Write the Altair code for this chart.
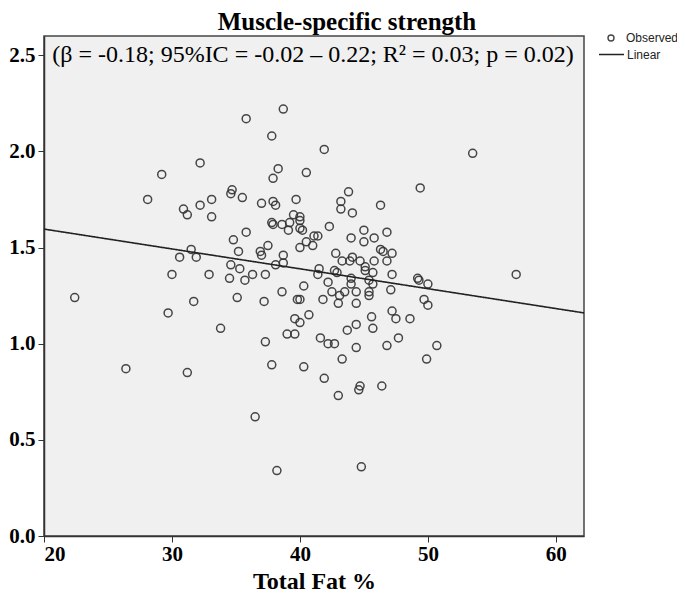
import altair as alt
import pandas as pd

# total fat % (x) and muscle-specific strength (y)
fat = [
    35.8, 38.7, 37.8, 32.2, 29.2, 38.3, 37.9, 28.1, 34.7, 34.6,
    35.5, 33.1, 32.2, 30.9, 31.2, 33.1, 37.0, 37.9, 38.1, 37.8,
    37.9, 38.6, 39.2, 39.1, 35.8, 34.8, 37.5, 31.5, 30.6, 31.9,
    35.2, 36.9, 37.0, 38.7, 34.6, 35.3, 38.7, 38.1, 30.0, 32.9,
    34.5, 35.7, 36.3, 37.3,
    41.9, 53.5, 40.5, 49.4, 43.8, 39.7, 43.2, 46.3, 43.2, 44.1,
    39.5, 40.0, 40.0, 40.0, 40.2, 42.3, 41.1, 41.4, 45.0, 46.8,
    44.0, 45.8, 40.5, 45.0, 40.0, 41.0, 46.3, 46.5, 47.2, 42.8,
    44.1, 43.3, 43.9, 44.7, 45.8, 46.8, 41.5, 45.1, 42.7, 42.9,
    41.4, 45.1, 45.7, 47.2, 49.2, 49.3, 50.0, 56.9, 42.2, 44.0,
    44.0, 45.4, 40.3,
    22.4, 29.7, 31.7, 35.1, 37.2, 38.6, 33.8, 37.3, 39.0, 26.4,
    31.2, 37.8, 36.5, 38.2,
    42.5, 43.1, 43.5, 44.4, 45.7, 45.4, 45.4, 47.1, 39.8, 40.0,
    41.8, 43.0, 44.4, 49.7, 50.0, 39.6, 40.0, 40.7, 45.6, 47.2,
    47.5, 48.6, 43.7, 44.4, 45.7, 39.6, 41.6, 42.2, 42.7, 44.4,
    46.8, 47.7, 50.7, 49.9, 43.3, 40.3, 41.9, 44.7, 44.6, 46.4,
    43.0, 44.8,
]
strength = [
    2.17, 2.22, 2.08, 1.94, 1.88, 1.91, 1.86, 1.75, 1.80, 1.78,
    1.76, 1.75, 1.72, 1.70, 1.67, 1.66, 1.73, 1.74, 1.72, 1.63,
    1.62, 1.62, 1.63, 1.59, 1.58, 1.54, 1.51, 1.49, 1.45, 1.45,
    1.48, 1.48, 1.46, 1.46, 1.41, 1.39, 1.42, 1.41, 1.36, 1.36,
    1.34, 1.33, 1.36, 1.36,
    2.01, 1.99, 1.89, 1.81, 1.79, 1.75, 1.74, 1.72, 1.70, 1.68,
    1.67, 1.66, 1.64, 1.60, 1.59, 1.61, 1.56, 1.56, 1.59, 1.58,
    1.55, 1.55, 1.53, 1.53, 1.50, 1.51, 1.49, 1.48, 1.47, 1.47,
    1.45, 1.43, 1.43, 1.43, 1.43, 1.43, 1.39, 1.40, 1.38, 1.37,
    1.36, 1.38, 1.37, 1.36, 1.34, 1.33, 1.31, 1.36, 1.32, 1.34,
    1.31, 1.33, 1.30,
    1.24, 1.16, 1.22, 1.24, 1.22, 1.27, 1.08, 1.01, 1.05, 0.87,
    0.85, 0.89, 0.62, 0.34,
    1.27, 1.25, 1.27, 1.27, 1.31, 1.27, 1.25, 1.28, 1.23, 1.23,
    1.23, 1.21, 1.21, 1.23, 1.20, 1.13, 1.11, 1.15, 1.14, 1.17,
    1.13, 1.13, 1.07, 1.10, 1.08, 1.05, 1.03, 1.00, 1.00, 0.98,
    0.99, 1.03, 0.99, 0.92, 0.92, 0.88, 0.82, 0.78, 0.76, 0.78,
    0.73, 0.36,
]

# linear fit, ends of the line
fit_fat = [20.0, 62.2]
fit_strength = [1.596, 1.160]

x_ticks = [20, 30, 40, 50, 60]
y_ticks = [0.0, 0.5, 1.0, 1.5, 2.0, 2.5]

title_text = "Muscle-specific strength"
note_text = "(β = -0.18; 95%IC = -0.02 – 0.22; R² = 0.03; p = 0.02)"

obs = pd.DataFrame({"fat": fat, "strength": strength, "kind": "Observed"})
fit = pd.DataFrame({"fat": fit_fat, "strength": fit_strength, "kind": "Linear"})

serif = "Liberation Serif"
sans = "Liberation Sans"

x_enc = alt.X(
    "fat:Q",
    scale=alt.Scale(domain=[20, 62.2], nice=False, zero=False),
    axis=alt.Axis(values=x_ticks, title="Total Fat %", grid=False,
                  labelFont=serif, labelFontWeight="bold", labelFontSize=21,
                  labelColor="black", labelPadding=1, tickSize=6,
                  tickColor="#333", domainColor="#333", domainWidth=1.5,
                  titleFont=serif, titleFontWeight="bold", titleFontSize=24,
                  titleColor="black", titleBaseline="alphabetic", titleY=52),
)
y_enc = alt.Y(
    "strength:Q",
    scale=alt.Scale(domain=[0, 2.6], nice=False),
    axis=alt.Axis(values=y_ticks, format=".1f", title=None, grid=False,
                  labelFont=serif, labelFontWeight="bold", labelFontSize=21,
                  labelColor="black", labelPadding=3, tickSize=6,
                  tickColor="#333", domainColor="#333", domainWidth=1.5),
)

points = alt.Chart(obs).mark_point(
    shape="circle", filled=False, size=64, strokeWidth=1.5,
    color="#333333", opacity=0.9,
).encode(
    x=x_enc, y=y_enc,
    shape=alt.Shape("kind:N", scale=alt.Scale(range=["circle"]),
                    legend=alt.Legend(orient="none", legendX=561, legendY=-4,
                                      title=None, padding=0, symbolSize=36,
                                      symbolStrokeWidth=1.4, labelOffset=9,
                                      labelFont=sans, labelFontSize=12,
                                      labelColor="#222")),
)

line = alt.Chart(fit).mark_line(color="#222222", strokeWidth=1.6).encode(
    x="fat:Q", y="strength:Q",
    strokeDash=alt.StrokeDash("kind:N", scale=alt.Scale(range=[[1, 0]]),
                              legend=alt.Legend(orient="none", legendX=554, legendY=5,
                                                title=None, padding=0, symbolSize=625,
                                                symbolStrokeWidth=1.5, labelOffset=2,
                                                labelFont=sans, labelFontSize=12,
                                                labelColor="#222")),
)

note = alt.Chart(pd.DataFrame({"label": [note_text]})).mark_text(
    font=serif, fontSize=24, color="black", align="center", baseline="alphabetic",
).encode(text="label:N", x=alt.value(269), y=alt.value(26))

title = alt.Chart(pd.DataFrame({"label": [title_text]})).mark_text(
    font=serif, fontSize=25, fontWeight="bold", color="black",
    align="center", baseline="alphabetic",
).encode(text="label:N", x=alt.value(303), y=alt.value(-6))

chart = alt.layer(points, line, note, title).properties(
    width=540, height=500,
    autosize=alt.AutoSizeParams(type="none"),
    padding={"left": 36, "top": 28, "right": 93, "bottom": 57},
).configure_view(
    stroke="#444444", strokeWidth=1.5, fill="#F0F0F0",
)

chart.save("out.html", embed_options={"renderer": "svg", "actions": False})
